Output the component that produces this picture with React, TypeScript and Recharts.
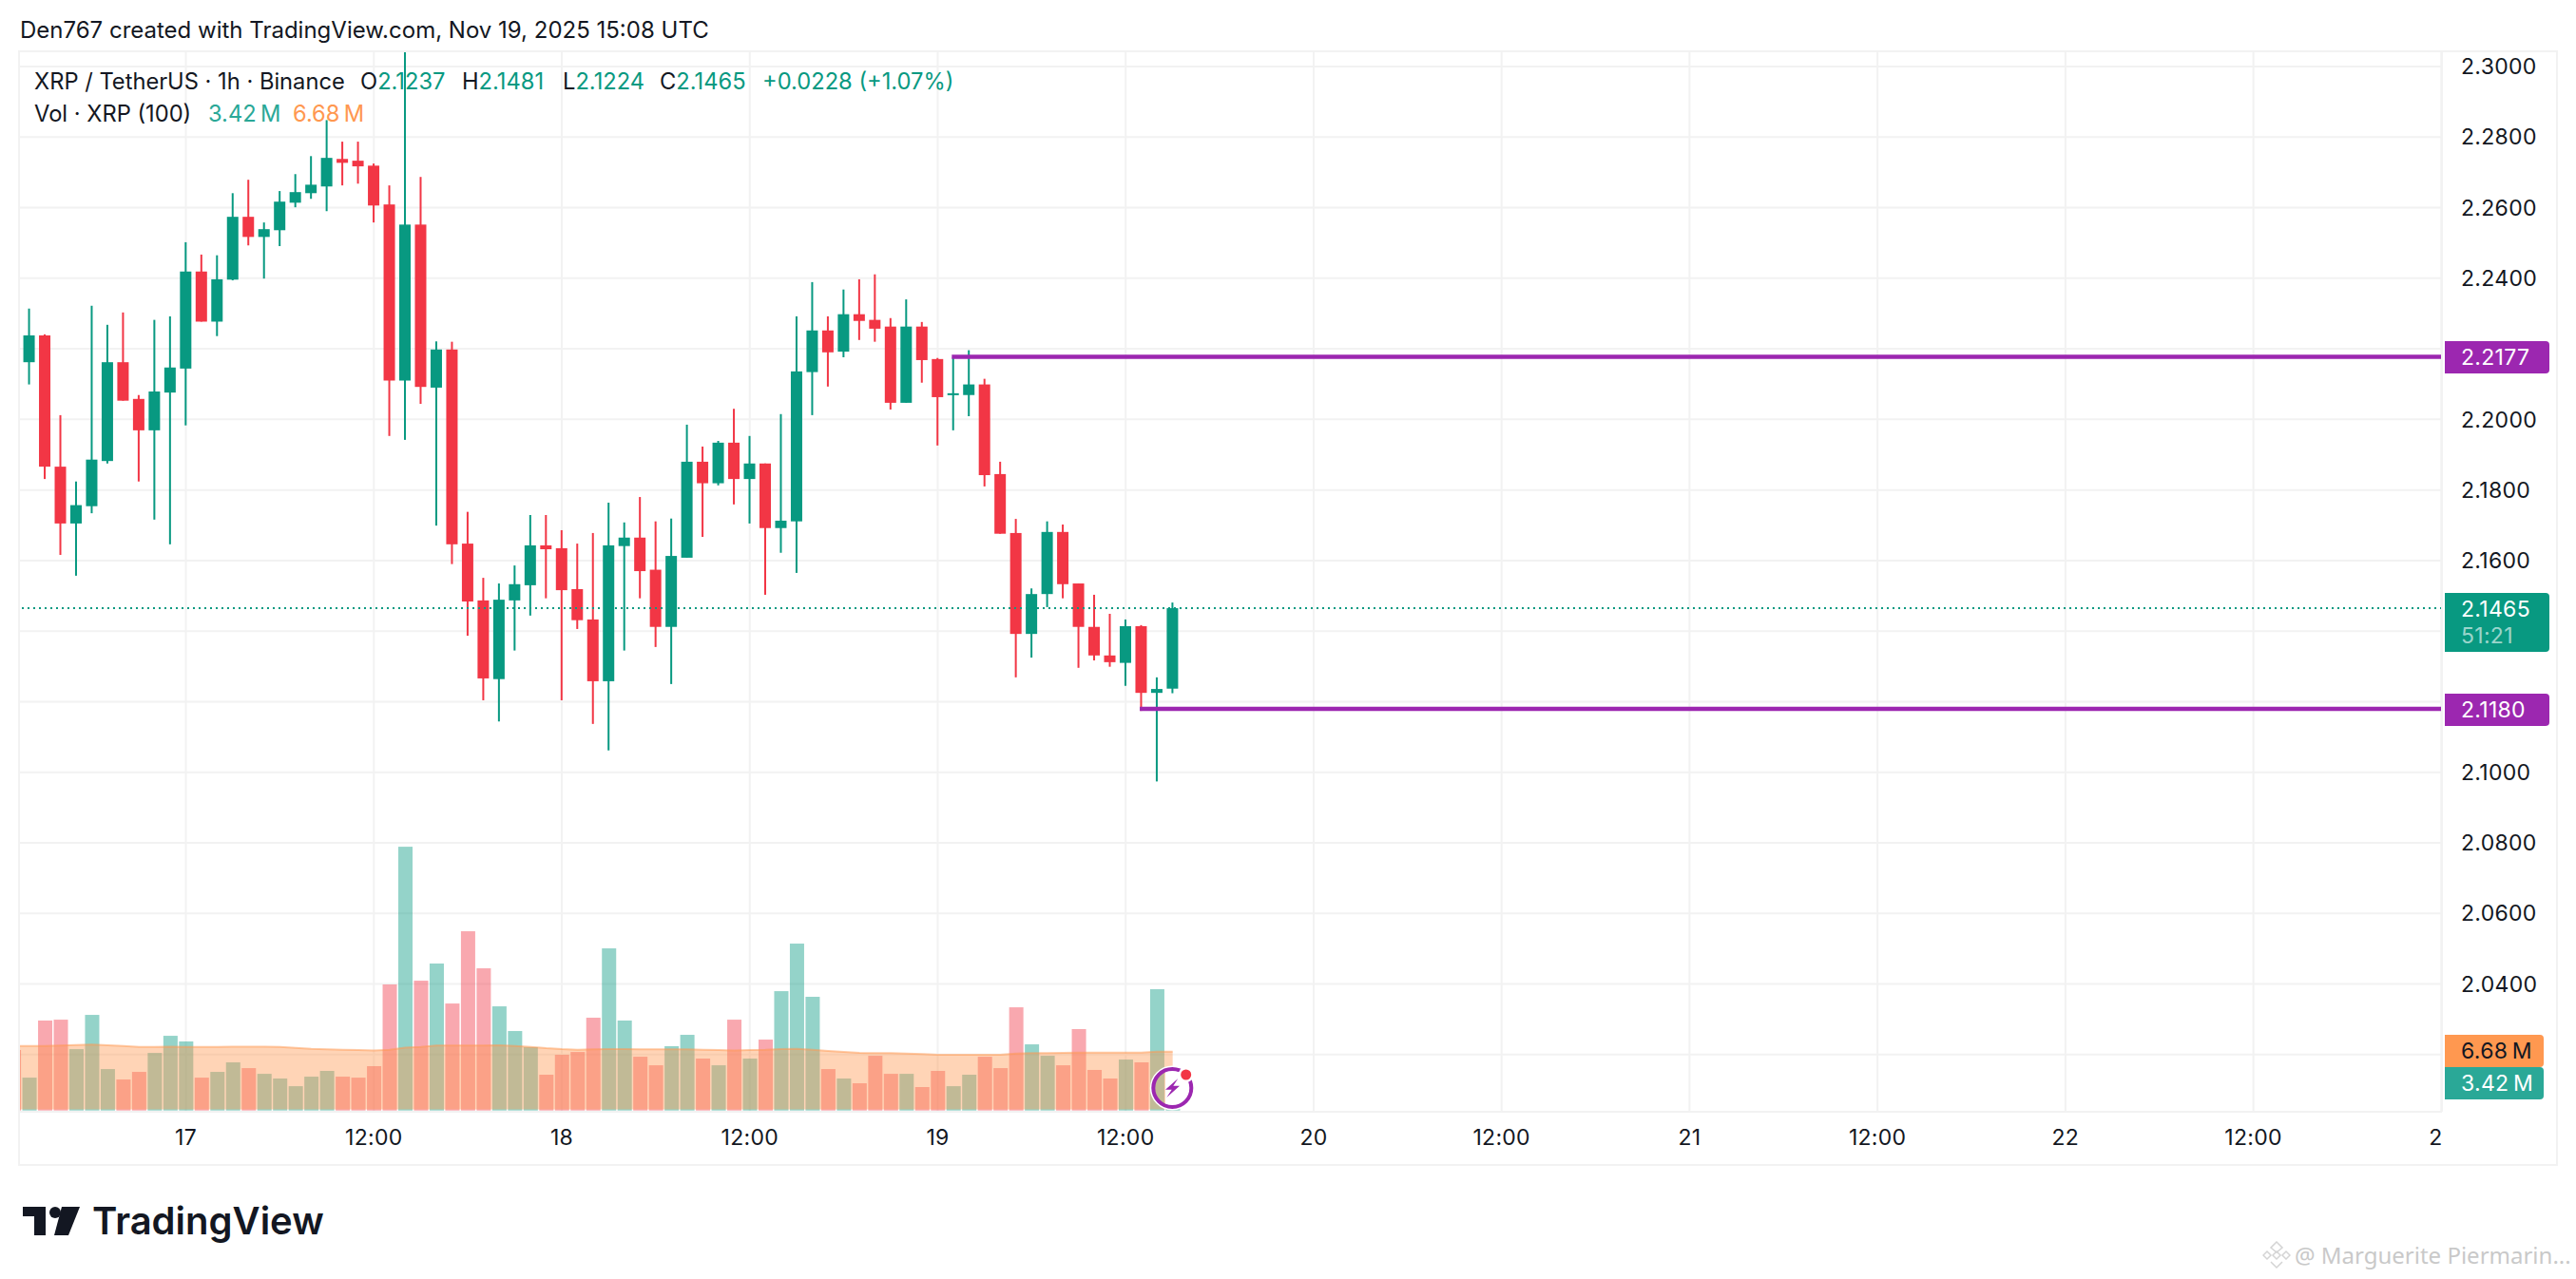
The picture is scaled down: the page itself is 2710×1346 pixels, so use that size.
import { ComposedChart, Bar, Area, XAxis, YAxis, CartesianGrid, ReferenceLine } from 'recharts'

const opens = [2.2162, 2.2238, 2.1866, 2.1705, 2.1754, 2.1882, 2.2162, 2.2058, 2.1969, 2.2076, 2.2144, 2.2419, 2.2277, 2.2396, 2.2574, 2.2517, 2.2536, 2.2614, 2.2641, 2.266, 2.2738, 2.2733, 2.2719, 2.2609, 2.211, 2.2552, 2.209, 2.2198, 2.1648, 2.1487, 2.1264, 2.1487, 2.153, 2.1643, 2.1635, 2.1519, 2.1433, 2.1258, 2.1641, 2.1665, 2.1574, 2.1412, 2.1608, 2.188, 2.1819, 2.1934, 2.1831, 2.1875, 2.1692, 2.1711, 2.2134, 2.2252, 2.2192, 2.2298, 2.2282, 2.2263, 2.2047, 2.2263, 2.2171, 2.207, 2.2069, 2.2099, 2.1845, 2.1678, 2.1392, 2.1505, 2.1681, 2.1535, 2.1412, 2.1331, 2.131, 2.1414, 2.1225, 2.1237]
const highs = [2.2314, 2.2241, 2.2012, 2.1824, 2.2322, 2.2268, 2.2303, 2.2069, 2.2282, 2.2292, 2.2502, 2.2467, 2.2465, 2.2641, 2.2679, 2.2558, 2.2647, 2.2695, 2.2746, 2.2848, 2.2787, 2.2787, 2.2725, 2.2663, 2.3043, 2.2687, 2.2221, 2.222, 2.1738, 2.1551, 2.1535, 2.1586, 2.1729, 2.1729, 2.1686, 2.1648, 2.1678, 2.1764, 2.1708, 2.178, 2.1711, 2.1719, 2.1985, 2.1923, 2.1939, 2.203, 2.1953, 2.1875, 2.2015, 2.2292, 2.2389, 2.2292, 2.2368, 2.2397, 2.2411, 2.2287, 2.234, 2.2276, 2.2174, 2.2176, 2.2196, 2.2115, 2.188, 2.1718, 2.1521, 2.1711, 2.1702, 2.1535, 2.1503, 2.1449, 2.1433, 2.1417, 2.1269, 2.1481]
const lows = [2.2099, 2.1831, 2.1616, 2.1557, 2.1734, 2.1875, 2.2053, 2.1824, 2.1716, 2.1646, 2.1983, 2.2277, 2.2236, 2.2394, 2.2493, 2.2399, 2.2491, 2.2601, 2.2625, 2.259, 2.2663, 2.2668, 2.2558, 2.1953, 2.1942, 2.2044, 2.1699, 2.159, 2.1387, 2.1204, 2.1144, 2.1345, 2.1444, 2.1493, 2.1204, 2.1406, 2.1137, 2.1062, 2.1345, 2.1493, 2.1355, 2.125, 2.1608, 2.1667, 2.1813, 2.1759, 2.1705, 2.1503, 2.1622, 2.1565, 2.2012, 2.2093, 2.2176, 2.2225, 2.222, 2.2028, 2.2047, 2.2104, 2.1926, 2.1969, 2.2009, 2.181, 2.1676, 2.1269, 2.1325, 2.1468, 2.1493, 2.1296, 2.1317, 2.1299, 2.1245, 2.1174, 2.0974, 2.1224]
const closes = [2.2238, 2.1866, 2.1705, 2.1757, 2.1886, 2.2162, 2.2053, 2.1969, 2.2079, 2.2147, 2.2419, 2.2277, 2.2397, 2.2574, 2.2517, 2.2539, 2.2617, 2.2644, 2.2665, 2.2741, 2.2727, 2.2717, 2.2606, 2.211, 2.2552, 2.2092, 2.2198, 2.1646, 2.1484, 2.1266, 2.1489, 2.1533, 2.1643, 2.1632, 2.1516, 2.1431, 2.1258, 2.1643, 2.1665, 2.157, 2.1412, 2.1613, 2.188, 2.1819, 2.1934, 2.1831, 2.1875, 2.1692, 2.1713, 2.2136, 2.2252, 2.219, 2.2298, 2.2279, 2.2257, 2.2047, 2.2263, 2.2168, 2.2063, 2.2074, 2.2099, 2.1842, 2.1676, 2.1392, 2.1505, 2.1681, 2.1533, 2.1412, 2.1331, 2.1312, 2.1414, 2.1225, 2.1236, 2.1465]
const volumes = [3.73, 10.2, 10.3, 6.96, 10.84, 4.7, 3.52, 4.38, 6.53, 8.47, 7.83, 3.73, 4.38, 5.46, 4.81, 4.16, 3.63, 2.76, 3.84, 4.49, 3.84, 3.73, 5.03, 14.29, 29.9, 14.72, 16.66, 12.13, 20.32, 16.12, 11.81, 9.01, 7.18, 4.06, 6.32, 6.64, 10.52, 18.38, 10.2, 6.1, 5.13, 7.29, 8.58, 5.89, 5.13, 10.3, 5.89, 8.04, 13.53, 18.92, 12.89, 4.7, 3.63, 3.09, 6.21, 4.16, 4.16, 2.66, 4.49, 2.76, 4.06, 6.1, 4.81, 11.7, 7.5, 6.21, 5.13, 9.23, 4.6, 3.63, 5.78, 5.46, 13.75, 3.42]
const volumeMa = [7.32, 7.32, 7.36, 7.43, 7.47, 7.4, 7.32, 7.22, 7.22, 7.25, 7.22, 7.22, 7.22, 7.25, 7.25, 7.25, 7.22, 7.11, 7.0, 6.93, 6.89, 6.86, 6.82, 6.89, 7.14, 7.22, 7.36, 7.36, 7.36, 7.36, 7.4, 7.32, 7.22, 7.07, 6.96, 6.89, 6.93, 6.96, 6.96, 6.93, 6.93, 6.93, 6.93, 6.89, 6.86, 6.82, 6.86, 6.89, 6.96, 7.0, 6.89, 6.75, 6.64, 6.53, 6.5, 6.5, 6.46, 6.39, 6.32, 6.32, 6.32, 6.32, 6.32, 6.46, 6.5, 6.5, 6.53, 6.57, 6.57, 6.57, 6.57, 6.57, 6.68, 6.68]

// the bar just left of the visible window, only its edge shows
const earlierVolume = 6.86
const earlierMa = 7.32

const priceTicks = [2.3, 2.28, 2.26, 2.24, 2.22, 2.2, 2.18, 2.16, 2.14, 2.12, 2.1, 2.08, 2.06, 2.04, 2.02]
const coveredPrices = [2.22, 2.14, 2.12, 2.02] // sit behind the price tags
const timeTicks = [10, 22, 34, 46, 58, 70, 82, 94, 106, 118, 130, 142, 154]
const timeLabels = ['17', '12:00', '18', '12:00', '19', '12:00', '20', '12:00', '21', '12:00', '22', '12:00', '2']
const resistance = 2.2177
const support = 2.118
const lastPrice = 2.1465

const GREEN = '#089981'
const RED = '#F23645'
const PURPLE = '#9C27B0'
const ORANGE = '#FF9850'
const TEAL = '#2AA897'
const TEXT = '#131722'
const GRID = '#F2F2F2'
const FONT = 'Inter, sans-serif'

const rows = [
  { i: -1, open: 1, close: 0, volume: earlierVolume, ma: earlierMa },
  ...opens.map((open, i) => ({
    i,
    open,
    close: closes[i],
    range: [lows[i], highs[i]],
    volume: volumes[i],
    ma: volumeMa[i],
  })),
]

function Candle(props: any) {
  const { x, y, width, height, payload } = props
  if (!payload.range) return null
  const color = payload.close >= payload.open ? GREEN : RED
  const [low, high] = payload.range
  const perUnit = height / (high - low)
  const top = y + (high - Math.max(payload.open, payload.close)) * perUnit
  const bottom = y + (high - Math.min(payload.open, payload.close)) * perUnit
  return (
    <g fill={color}>
      <rect x={x + width / 2 - 1} y={y} width={2} height={height} />
      <rect x={x} y={top} width={width} height={Math.max(bottom - top, 2)} />
    </g>
  )
}

function VolumeBar(props: any) {
  const { x, y, width, height, payload } = props
  return <rect x={x} y={y} width={width} height={height} fill={payload.close >= payload.open ? GREEN : RED} fillOpacity={0.43} />
}

function TimeTick(props: any) {
  const { x, y, index } = props
  return (
    <text x={index === timeTicks.length - 1 ? x - 6 : x} y={y} dy={7} textAnchor="middle" dominantBaseline="central" fontSize={23} fontFamily={FONT} fill={TEXT} letterSpacing={0.3}>
      {timeLabels[index]}
    </text>
  )
}

function Tag({ top, height, width = 110, bg, color = '#fff', children }: any) {
  return (
    <div style={{ position: 'absolute', left: 2572, top, width, height, background: bg, color, borderRadius: '0 4px 4px 0', fontSize: 23, fontFamily: FONT, paddingLeft: 17, boxSizing: 'border-box', lineHeight: height + 'px', letterSpacing: 0.3 }}>
      {children}
    </div>
  )
}

function Abs({ x, y, size = 23.7, color = TEXT, weight = 400, font = FONT, children }: any) {
  return (
    <span style={{ position: 'absolute', left: x, top: y, fontSize: size, fontFamily: font, color, fontWeight: weight, whiteSpace: 'nowrap', lineHeight: 1 }}>
      {children}
    </span>
  )
}

export default function App() {
  return (
    <div style={{ position: 'absolute', left: 0, top: 0, width: 2710, height: 1346, background: '#fff', overflow: 'hidden' }}>
      <ComposedChart width={2710} height={1346} data={rows} margin={{ top: 54, left: 20, right: 20, bottom: 120 }}>
        <CartesianGrid stroke={GRID} strokeWidth={2} />
        <XAxis dataKey="i" type="number" scale="linear" domain={[-0.655, 154.04]} allowDataOverflow ticks={timeTicks} interval={0} height={56} axisLine={false} tickLine={false} tickSize={0} tickMargin={20} tick={<TimeTick />} />
        <XAxis xAxisId="vol" dataKey="i" type="number" scale="linear" domain={[-0.655, 154.04]} allowDataOverflow hide />
        <YAxis orientation="right" domain={[2.0038, 2.3043]} ticks={priceTicks} interval={0} width={121} allowDataOverflow tickLine={false} tickSize={0} tickMargin={20} axisLine={{ stroke: GRID, strokeWidth: 2 }} tick={{ fill: TEXT, fontSize: 23, fontFamily: FONT, letterSpacing: 0.3 }} tickFormatter={(v: number) => (coveredPrices.includes(v) ? '' : v.toFixed(4))} />
        <YAxis yAxisId="vol" domain={[-0.14, 120.06]} hide />
        <Bar xAxisId="vol" yAxisId="vol" dataKey="volume" barSize={15} shape={<VolumeBar />} isAnimationActive={false} zIndex={300} />
        <Area xAxisId="vol" yAxisId="vol" dataKey="ma" type="linear" baseValue={0.12} stroke={ORANGE} strokeOpacity={0.5} strokeWidth={2} fill={ORANGE} fillOpacity={0.42} dot={false} activeDot={false} isAnimationActive={false} zIndex={350} />
        <Bar dataKey="range" barSize={12} shape={<Candle />} isAnimationActive={false} zIndex={400} />
        <ReferenceLine y={lastPrice} stroke={GREEN} strokeWidth={2} strokeDasharray="2 4" zIndex={450} />
        <ReferenceLine segment={[{ x: 58.9, y: resistance }, { x: 154.04, y: resistance }]} stroke={PURPLE} strokeWidth={4.5} zIndex={450} />
        <ReferenceLine segment={[{ x: 70.9, y: support }, { x: 154.04, y: support }]} stroke={PURPLE} strokeWidth={4.5} zIndex={450} />
      </ComposedChart>

      {/* frame around the panes */}
      <div style={{ position: 'absolute', left: 19, top: 53, width: 2668, height: 1170, border: '2px solid ' + GRID, pointerEvents: 'none' }} />

      <Abs x={21} y={20} size={24}>Den767 created with TradingView.com, Nov 19, 2025 15:08 UTC</Abs>
      <Abs x={36} y={74}>XRP / TetherUS · 1h · Binance</Abs>
      <Abs x={379} y={74}>O<span style={{ color: GREEN }}>2.1237</span></Abs>
      <Abs x={486} y={74}>H<span style={{ color: GREEN }}>2.1481</span></Abs>
      <Abs x={592} y={74}>L<span style={{ color: GREEN }}>2.1224</span></Abs>
      <Abs x={694} y={74}>C<span style={{ color: GREEN }}>2.1465</span></Abs>
      <Abs x={802} y={74} color={GREEN}>+0.0228 (+1.07%)</Abs>
      <Abs x={36} y={108}>Vol · XRP (100)</Abs>
      <Abs x={219} y={108} color={TEAL}>3.42{'\u2009'}M</Abs>
      <Abs x={308} y={108} color={ORANGE}>6.68{'\u2009'}M</Abs>

      <Tag top={359} height={34} bg={PURPLE}>2.2177</Tag>
      <div style={{ position: 'absolute', left: 2572, top: 624, width: 110, height: 62, background: GREEN, color: '#fff', borderRadius: '0 4px 4px 0', fontSize: 23, fontFamily: FONT, paddingLeft: 17, boxSizing: 'border-box', letterSpacing: 0.3, lineHeight: '28px', paddingTop: 3 }}>
        2.1465
        <div style={{ color: 'rgba(255,255,255,0.6)' }}>51:21</div>
      </div>
      <Tag top={730} height={34} bg={PURPLE}>2.1180</Tag>
      <Tag top={1089} height={34} width={104} bg={ORANGE} color={TEXT}>6.68{'\u2009'}M</Tag>
      <Tag top={1123} height={34} width={104} bg={TEAL}>3.42{'\u2009'}M</Tag>

      {/* lightning badge, it blanks the running bar behind it */}
      <svg style={{ position: 'absolute', left: 1205, top: 1117 }} width={56} height={56}>
        <clipPath id="badgeCut"><rect x={21} y={0} width={35} height={50} /></clipPath>
        <circle cx={28.3} cy={28} r={22} fill="#fff" clipPath="url(#badgeCut)" />
        <circle cx={28.3} cy={28} r={22.5} fill="none" stroke="#fff" strokeWidth={2} />
        <circle cx={28.3} cy={28} r={20} fill="none" stroke={PURPLE} strokeWidth={4} />
        <path d="M34.3 18 L21 29.7 L27.7 29.7 L22.3 38 L36 25.7 L29.3 25.7 Z" fill={PURPLE} />
        <circle cx={42.7} cy={14} r={8} fill="#fff" />
        <circle cx={42.7} cy={14} r={5.5} fill={RED} />
      </svg>

      {/* logo */}
      <svg style={{ position: 'absolute', left: 24, top: 1270 }} width={62} height={31}>
        <path d="M0 0 H24 V30 H12 V10 H0 Z" fill={TEXT} />
        <circle cx={34} cy={6} r={6} fill={TEXT} />
        <path d="M41 0 H60 L48 30 H33 Z" fill={TEXT} />
      </svg>
      <Abs x={97} y={1265} size={40} weight={600}>TradingView</Abs>

      {/* repost watermark */}
      <svg style={{ position: 'absolute', left: 2380, top: 1306 }} width={30} height={30} fill="none" stroke="#D4D4D4" strokeWidth={1.5}>
        <path d="M15 1 L21 7 L15 12 L9 7 Z" />
        <path d="M15 11 L19 15 L15 19 L11 15 Z" />
        <path d="M5 11 L9 15 L5 19 L1 15 Z" />
        <path d="M25 11 L29 15 L25 19 L21 15 Z" />
        <path d="M9 22 L15 28 L21 22" />
      </svg>
      <Abs x={2414} y={1309} size={24} color="#C9C9C9" font="'Noto Sans', sans-serif">@ Marguerite Piermarin...</Abs>
    </div>
  )
}
